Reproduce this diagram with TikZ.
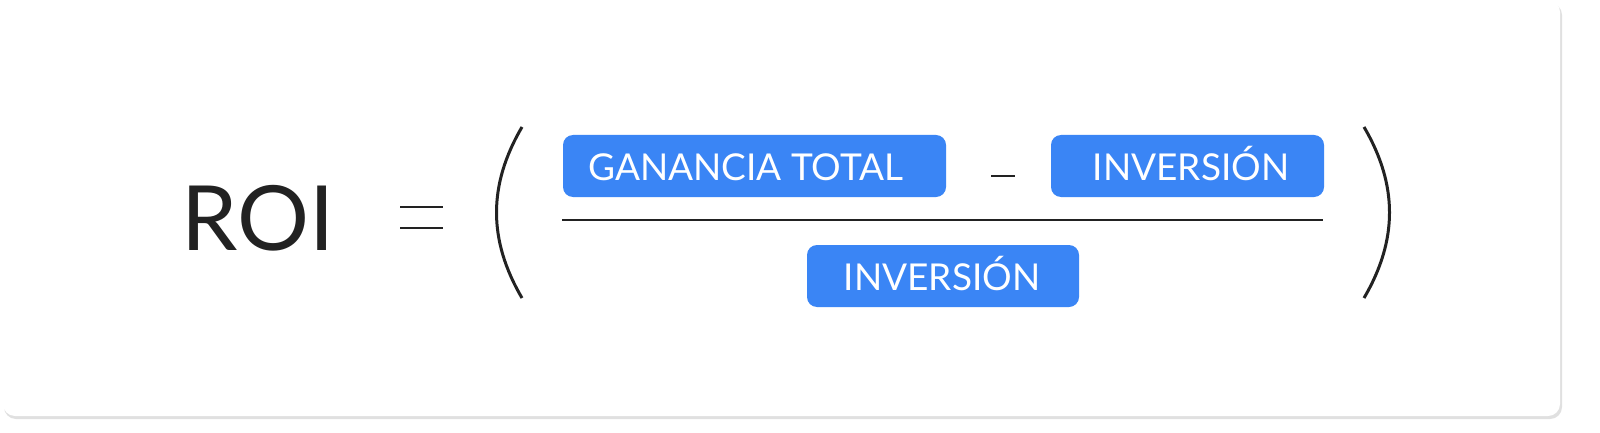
\documentclass[tikz,border=0pt]{standalone}
\usepackage{fontspec}
\setmainfont{Lato}
\definecolor{blu}{HTML}{3A85F5}
\definecolor{ink}{HTML}{222222}
\begin{document}
\begin{tikzpicture}[x=1pt,y=-1pt,
  box/.style={fill=blu,rounded corners=10pt,draw=none},
  lbl/.style={text=white,font=\fontsize{37}{40}\selectfont,inner sep=0pt},
  paren/.style={draw=ink,line width=3pt}]
\useasboundingbox (0,0) rectangle (1600,433);
\fill[white] (0,0) rectangle (1600,433);
\fill[black!12,rounded corners=12pt] (4,3) rectangle (1562,419);
\fill[white,rounded corners=12pt] (3,0) rectangle (1560,416);
\node[text=ink,font=\fontsize{90}{90}\selectfont,inner sep=0pt,anchor=base] (roi) at (258,250) {ROI};
\draw[ink,line width=2pt] (400,207) coordinate (e1) -- (443,207) coordinate (e2);
\draw[ink,line width=2pt] (400,228) coordinate (e3) -- (443,228) coordinate (e4);
\coordinate (lp1) at (522,127); \coordinate (lp2) at (522,298);
\draw[paren] (lp1) .. controls (488,185) and (488,240) .. (lp2);
\coordinate (rp1) at (1364,127); \coordinate (rp2) at (1364,298);
\draw[paren] (rp1) .. controls (1398,185) and (1398,240) .. (rp2);
\path[box] (563,135) rectangle (946,197);
\node[lbl,anchor=base west] (g) at (588,180) {GANANCIA TOTAL};
\draw[ink,line width=2pt] (991,176) coordinate (m1) -- (1015,176) coordinate (m2);
\path[box] (1051,135) rectangle (1324,197);
\node[lbl,anchor=base] (i1) at (1191,180) {INVERSIÓN};
\draw[ink,line width=1.5pt] (562,220) coordinate (f1) -- (1323,220) coordinate (f2);
\path[box] (807,245) rectangle (1079,307);
\node[lbl,anchor=base] (i2) at (942,290) {INVERSIÓN};
\end{tikzpicture}
\end{document}
